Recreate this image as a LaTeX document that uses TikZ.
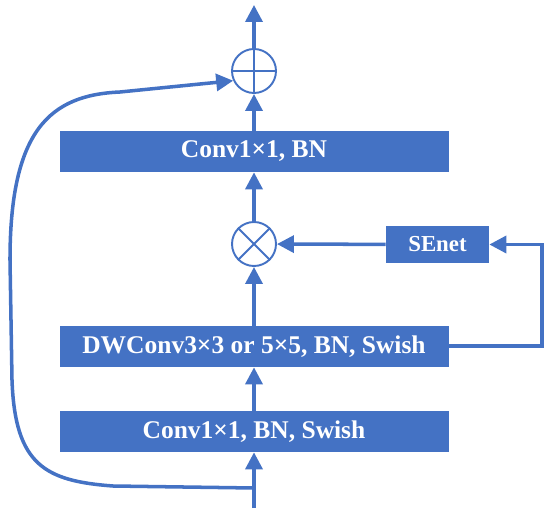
\documentclass[tikz,border=0pt]{standalone}
\usepackage{fontspec}
\setmainfont{Liberation Serif}
\usepackage{tikz}
\usetikzlibrary{arrows.meta}

\definecolor{blockblue}{RGB}{68,114,196}

\begin{document}
\begin{tikzpicture}
                \tikzset{block/.style = {shape=rectangle,fill=blockblue,text=white,font=\fontsize{14.5}{17}\selectfont\bfseries,minimum width=7.78cm,minimum height=0.82cm,inner sep=0pt}}
                \tikzset{opcircle/.style = {shape=circle,draw=blockblue,line width=1.1pt,minimum size=0.88cm,inner sep=0pt}}
                \tikzset{edge/.style = {-{Triangle[length=0.34cm,width=0.34cm]},draw=blockblue,line width=2pt}}
                \useasboundingbox (0,0) rectangle (11,-10.34);
                % blocks
                \node[opcircle] (add) at (5.08,-1.42) {};
                \node[block] (conv2) at (5.08,-3.03) {Conv1×1, BN};
                \node[opcircle] (mul) at (5.08,-4.88) {};
                \node[block, minimum width=2.06cm, minimum height=0.74cm, font=\fontsize{13}{15}\selectfont\bfseries] (se) at (8.75,-4.89) {SEnet};
                \node[block] (dw) at (5.08,-6.93) {DWConv3×3 or 5×5, BN, Swish};
                \node[block] (conv1) at (5.08,-8.63) {Conv1×1, BN, Swish};
                \coordinate (in) at (5.08,-10.16);
                \coordinate (split) at (5.08,-9.76);
                \coordinate (out) at (5.08,-0.1);
                \coordinate (loop) at (10.84,-6.92);

                % operator marks
                \draw[blockblue, line width=1.1pt] (add.north) -- (add.south) (add.west) -- (add.east);
                \draw[blockblue, line width=1.1pt] (mul.north east) -- (mul.south west) (mul.north west) -- (mul.south east);

                %edges
                \draw[edge] (in) to (conv1);
                \draw[edge] (conv1) to (dw);
                \draw[edge] (dw) to (mul);
                \draw[edge] (mul) to (conv2);
                \draw[edge] (conv2) to (add);
                \draw[edge] (add) to (out);
                \draw[edge] (se) to (mul);
                \draw[edge] (dw.east |- loop) -- (loop) |- (se.east);
                \draw[edge] (split) -- (2.26,-9.72) .. controls (0.9,-9.62) and (0.3,-9.3) .. (0.24,-7.6)
                    -- (0.2,-5.2) .. controls (0.2,-2.6) and (1.0,-1.9) .. (2.4,-1.84) -- (add.205);
            \end{tikzpicture}
\end{document}
